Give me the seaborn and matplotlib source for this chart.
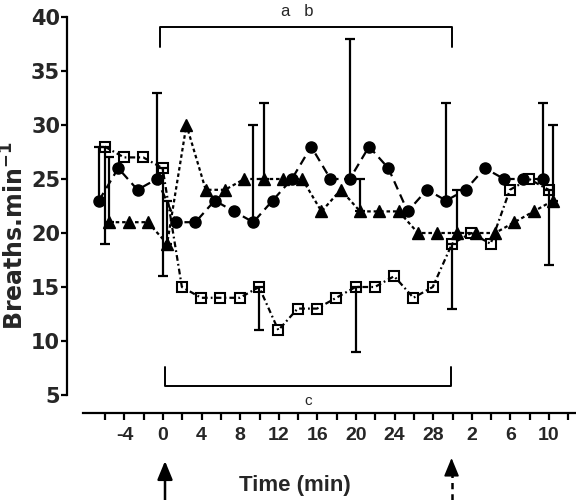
import numpy as np
import pandas as pd
import matplotlib
matplotlib.use("Agg")
import matplotlib.pyplot as plt
import seaborn as sns
from matplotlib.transforms import blended_transform_factory

# ---------------- data ----------------
times = [-6, -4, -2, 0, 2, 4, 6, 8, 10, 12, 14, 16, 18, 20, 22, 24, 26, 28, 30, 32, 34, 36, 38, 40]
circles = [23, 26, 24, 25, 21, 21, 23, 22, 21, 23, 25, 28, 25, 25, 28, 26, 22, 24, 23, 24, 26, 25, 25, 25]
triangles = [21, 21, 21, 19, 30, 24, 24, 25, 25, 25, 25, 22, 24, 22, 22, 22, 20, 20, 20, 20, 20, 21, 22, 23]
squares = [28, 27, 27, 26, 15, 14, 14, 14, 15, 11, 13, 13, 14, 15, 15, 16, 14, 15, 19, 20, 19, 24, 25, 24]

err_times = [-6, 0, 10, 20, 30, 40]
circle_err_up = [5, 8, 9, 13, 9, 7]
triangle_err_up = [6, 4, 7, 3, 4, 7]
square_err_down = [9, 10, 4, 6, 6, 7]

label_pos = [-4, 0, 4, 8, 12, 16, 20, 24, 28, 32, 36, 40]
label_text = ["-4", "0", "4", "8", "12", "16", "20", "24", "28", "2", "6", "10"]
minor_pos = [-6, -2, 2, 6, 10, 14, 18, 22, 26, 30, 34, 38, 42]
yticks = [5, 10, 15, 20, 25, 30, 35, 40]

# ---------------- style ----------------
sns.set_style("ticks")
plt.rcParams["font.family"] = ["Liberation Sans", "DejaVu Sans"]
plt.rcParams["mathtext.fontset"] = "custom"
plt.rcParams["mathtext.rm"] = "DejaVu Sans:bold"
plt.rcParams["mathtext.it"] = "DejaVu Sans:bold"
plt.rcParams["mathtext.bf"] = "DejaVu Sans:bold"

W, H = 576, 500
fig = plt.figure(figsize=(W / 100, H / 100), dpi=100)
ax = fig.add_axes([83 / W, 1 - 395 / H, 1 - 83 / W, (395 - 17) / H])

off_c, off_t, off_s = -0.65, 0.42, -0.05

df = pd.DataFrame({"t": times, "c": circles, "tr": triangles, "s": squares})

sns.lineplot(x=df["t"] + off_c, y=df["c"], ax=ax, color="k", marker="o",
             markersize=8, mec="k", mfc="k", mew=1, lw=1.6,
             linestyle=(0, (4, 2.5)), sort=False, errorbar=None, zorder=3)
sns.lineplot(x=df["t"] + off_t, y=df["tr"], ax=ax, color="k", marker="^",
             markersize=8.5, mec="k", mfc="k", mew=1, lw=1.6,
             linestyle=(0, (1.6, 1.3)), sort=False, errorbar=None, zorder=3)
sns.lineplot(x=df["t"] + off_s, y=df["s"], ax=ax, color="k", marker="s",
             markersize=7.5, mec="k", mfc="none", mew=1.5, lw=1.6,
             linestyle=(0, (2.6, 1.4, 0.8, 1.4)), sort=False, errorbar=None, zorder=3)

et = np.array(err_times, dtype=float)
idx = [times.index(t) for t in err_times]
zeros = np.zeros(len(err_times))
ax.errorbar(et + off_c, np.array(circles)[idx], yerr=[zeros, circle_err_up],
            fmt="none", ecolor="k", elinewidth=1.6, capsize=3.6, capthick=1.6, zorder=2)
ax.errorbar(et + off_t, np.array(triangles)[idx], yerr=[zeros, triangle_err_up],
            fmt="none", ecolor="k", elinewidth=1.6, capsize=3.6, capthick=1.6, zorder=2)
ax.errorbar(et + off_s, np.array(squares)[idx], yerr=[square_err_down, zeros],
            fmt="none", ecolor="k", elinewidth=1.6, capsize=3.6, capthick=1.6, zorder=2)

# axes
ax.set_xlim(-8.3, 42.8)
ax.set_ylim(5, 40)
ax.set_xlabel("")
ax.set_ylabel("")
sns.despine(ax=ax)
ax.spines["left"].set_position(("outward", 11.5))
ax.spines["bottom"].set_position(("outward", 13))
for sp in ("left", "bottom"):
    ax.spines[sp].set_linewidth(1.6)
    ax.spines[sp].set_color("k")

ax.set_xticks(label_pos)
ax.set_xticklabels(label_text, fontsize=14, fontweight="bold")
ax.set_xticks(minor_pos, minor=True)
ax.set_yticks(yticks)
ax.set_yticklabels([str(v) for v in yticks], fontsize=15, fontweight="bold",
                   family="DejaVu Sans")
ax.tick_params(axis="x", which="both", length=5, width=1.6, color="k", pad=5)
ax.tick_params(axis="y", which="both", length=4, width=1.6, color="k", pad=1)

# brackets
ax.plot([-0.3, -0.3, 29.9, 29.9], [37.2, 39.07, 39.07, 37.2], color="k", lw=1.4, clip_on=False)
ax.text(13.9, 40.55, "a   b", ha="center", va="center", fontsize=12)
ax.plot([0.2, 0.2, 29.85, 29.85], [7.6, 5.83, 5.83, 7.6], color="k", lw=1.4, clip_on=False)
ax.text(15.0, 4.45, "c", ha="center", va="center", fontsize=11, clip_on=False)

# arrows
trans = blended_transform_factory(ax.transData, fig.transFigure)
ax.annotate("", xy=(0.2, 1 - 461 / H), xycoords=trans, xytext=(0.2, 0.0), textcoords=trans,
            arrowprops=dict(arrowstyle="-|>,head_length=0.8,head_width=0.33", lw=1.8,
                            color="k", shrinkA=0, shrinkB=0, mutation_scale=14),
            annotation_clip=False)
ax.plot([29.9, 29.9], [0.0, 1 - 468 / H], transform=trans, color="k", lw=1.8,
        linestyle=(0, (2.5, 2)), clip_on=False)
ax.annotate("", xy=(29.9, 1 - 458 / H), xycoords=trans, xytext=(29.9, 1 - 470 / H), textcoords=trans,
            arrowprops=dict(arrowstyle="-|>,head_length=0.8,head_width=0.33", lw=1.2,
                            color="k", shrinkA=0, shrinkB=0, mutation_scale=14),
            annotation_clip=False)

# axis titles
fig.text(295 / W, 1 - 485 / H, "Time (min)", ha="center", va="center",
         fontsize=16, fontweight="bold")
fig.text(15 / W, 1 - 236 / H, r"Breaths.min$^{-1}$", ha="center", va="center",
         rotation=90, fontsize=17, fontweight="bold", family="DejaVu Sans")

fig.savefig("out.png", dpi=100)
